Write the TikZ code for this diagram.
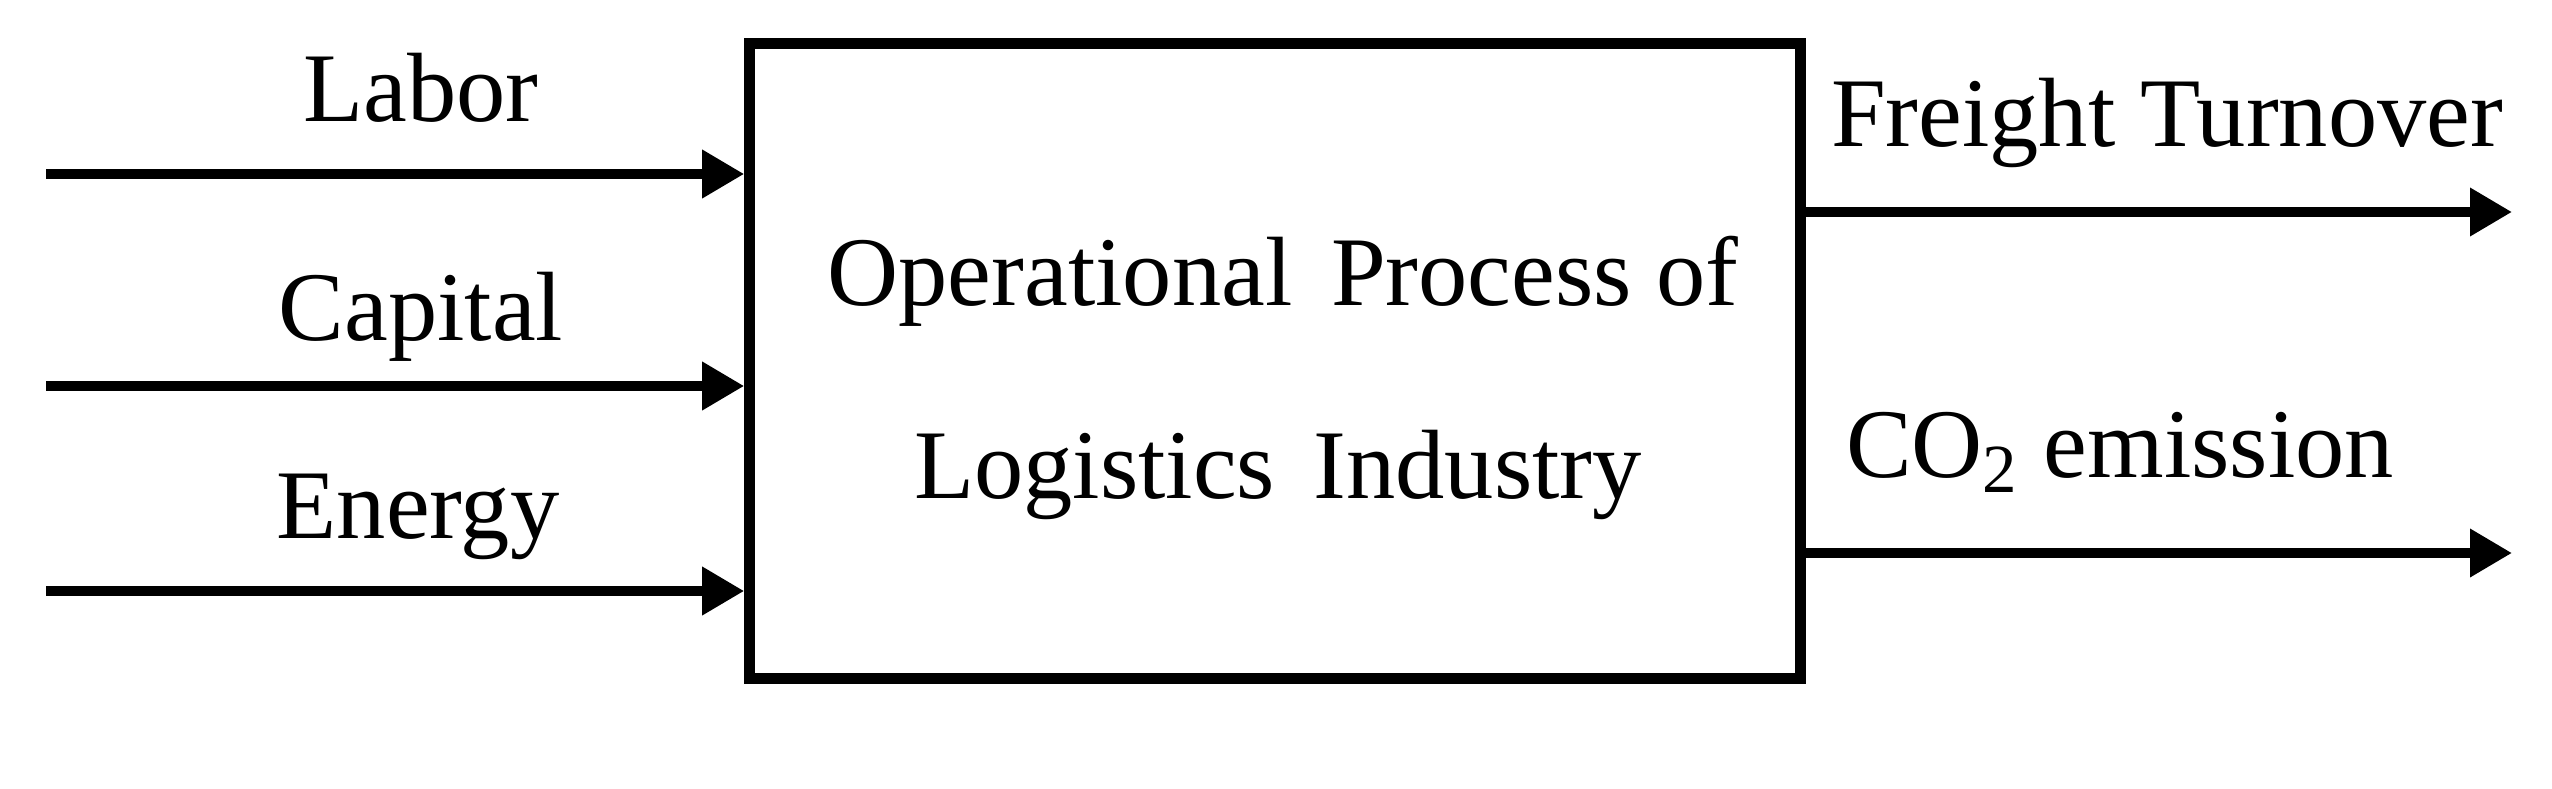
\documentclass[tikz,border=0pt]{standalone}
\usepackage{fontspec}
\setmainfont{Liberation Serif}
\usetikzlibrary{arrows.meta}
\begin{document}
\begin{tikzpicture}[x=0.01cm,y=-0.01cm,
  lbl/.style={font=\fontsize{28}{34}\selectfont, inner sep=0pt, anchor=base},
  flow/.style={line width=0.1cm, -{Triangle[length=0.42cm,width=0.46cm]}},
  proc/.style={draw, line width=0.11cm, minimum width=10.5cm, minimum height=6.35cm, inner sep=0pt}]
\useasboundingbox (0,0) rectangle (2552,788);
\node[proc] (box) at (1275,361) {};
\node[lbl] (l1) at (1283,305) {Operational\ \hspace{4pt}Process of};
\node[lbl] (l2) at (1278,498) {Logistics\ \hspace{4pt}Industry};
% inputs
\coordinate (s1) at (46,174);
\coordinate (s2) at (46,386);
\coordinate (s3) at (46,591);
\draw[flow] (s1) -- (s1 -| box.west);
\draw[flow] (s2) -- (s2 -| box.west);
\draw[flow] (s3) -- (s3 -| box.west);
\node[lbl] (labor) at (421,122) {Labor};
\node[lbl] (capital) at (421,340) {Capital};
\node[lbl] (energy) at (418,538) {Energy};
% outputs
\coordinate (e1) at (2512,212);
\coordinate (e2) at (2512,553);
\draw[flow] (e1 -| box.east) -- (e1);
\draw[flow] (e2 -| box.east) -- (e2);
\node[lbl] (ft) at (2167,147) {Freight Turnover};
\node[lbl] (co) at (2120,477) {CO\textsubscript{2} emission};
\end{tikzpicture}
\end{document}
